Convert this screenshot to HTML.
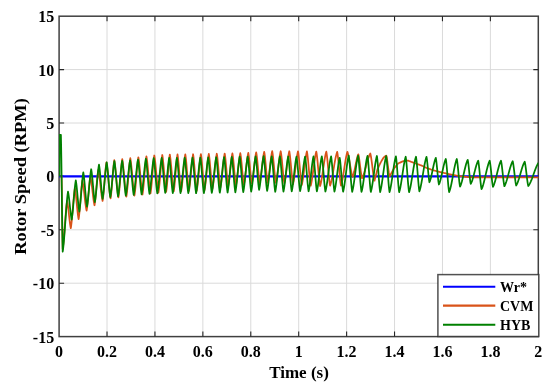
<!DOCTYPE html>
<html><head><meta charset="utf-8"><title>Rotor Speed</title>
<style>html,body{margin:0;padding:0;background:#fff;width:550px;height:390px;overflow:hidden}svg{display:block}</style>
</head><body>
<svg width="550" height="390" viewBox="0 0 550 390">
<rect width="550" height="390" fill="#fff"/>
<defs><clipPath id="c"><rect x="59.10" y="16.20" width="479.20" height="320.40"/></clipPath></defs>
<path d="M107.02 16.20V336.60M154.94 16.20V336.60M202.86 16.20V336.60M250.78 16.20V336.60M298.70 16.20V336.60M346.62 16.20V336.60M394.54 16.20V336.60M442.46 16.20V336.60M490.38 16.20V336.60M59.10 283.20H538.30M59.10 229.80H538.30M59.10 176.40H538.30M59.10 123.00H538.30M59.10 69.60H538.30" stroke="#dadada" stroke-width="1" fill="none"/>
<rect x="59.10" y="16.20" width="479.20" height="320.40" fill="none" stroke="#262626" stroke-width="1.5" stroke-opacity="0.88"/>
<path d="M107.02 336.60v-5.00M107.02 16.20v5.00M154.94 336.60v-5.00M154.94 16.20v5.00M202.86 336.60v-5.00M202.86 16.20v5.00M250.78 336.60v-5.00M250.78 16.20v5.00M298.70 336.60v-5.00M298.70 16.20v5.00M346.62 336.60v-5.00M346.62 16.20v5.00M394.54 336.60v-5.00M394.54 16.20v5.00M442.46 336.60v-5.00M442.46 16.20v5.00M490.38 336.60v-5.00M490.38 16.20v5.00M59.10 283.20h5.00M538.30 283.20h-5.00M59.10 229.80h5.00M538.30 229.80h-5.00M59.10 176.40h5.00M538.30 176.40h-5.00M59.10 123.00h5.00M538.30 123.00h-5.00M59.10 69.60h5.00M538.30 69.60h-5.00" stroke="#262626" stroke-width="1.1" fill="none"/>
<g clip-path="url(#c)" fill="none" stroke-width="1.75" stroke-linejoin="round">
<path d="M59.10 176.40H538.30" stroke="#0000ff" stroke-width="2.1"/>
<path d="M60.40 176.40L60.63 176.40L60.86 176.40L61.09 176.40L61.32 176.40L61.55 176.40L61.78 187.51L62.01 203.67L62.24 221.76L62.47 237.91L62.70 249.02L62.94 247.39L63.19 245.43L63.43 243.17L63.68 240.62L63.92 237.82L64.17 234.81L64.41 231.63L64.66 228.34L64.90 224.99L65.14 221.65L65.39 218.36L65.63 215.18L65.88 212.17L66.12 209.37L66.37 206.82L66.61 204.55L66.86 202.60L67.10 200.96L67.35 202.10L67.59 203.49L67.84 205.13L68.09 206.99L68.33 209.02L68.58 211.19L68.83 213.44L69.07 215.72L69.32 217.97L69.57 220.14L69.81 222.18L70.06 224.03L70.31 225.67L70.55 227.07L70.80 228.20L71.04 226.75L71.28 225.00L71.52 222.96L71.76 220.66L72.01 218.14L72.25 215.43L72.49 212.58L72.73 209.65L72.97 206.69L73.21 203.76L73.45 200.92L73.69 198.21L73.94 195.68L74.18 193.38L74.42 191.35L74.66 189.60L74.90 188.15L75.15 189.44L75.39 191.02L75.64 192.89L75.89 195.00L76.13 197.31L76.38 199.78L76.63 202.34L76.87 204.93L77.12 207.49L77.37 209.96L77.61 212.27L77.86 214.38L78.11 216.25L78.35 217.83L78.60 219.12L78.84 217.63L79.07 215.82L79.31 213.70L79.55 211.30L79.79 208.67L80.03 205.85L80.26 202.91L80.50 199.90L80.74 196.89L80.97 193.94L81.21 191.12L81.45 188.49L81.69 186.09L81.93 183.97L82.16 182.16L82.40 180.67L82.65 181.75L82.89 183.06L83.14 184.58L83.39 186.30L83.64 188.18L83.88 190.21L84.13 192.33L84.38 194.52L84.62 196.73L84.87 198.92L85.12 201.04L85.36 203.06L85.61 204.95L85.86 206.67L86.11 208.19L86.35 209.49L86.60 210.58L86.84 209.25L87.07 207.64L87.31 205.76L87.55 203.62L87.79 201.28L88.03 198.78L88.26 196.16L88.50 193.49L88.74 190.81L88.97 188.20L89.21 185.69L89.45 183.35L89.69 181.22L89.93 179.33L90.16 177.72L90.40 176.40L90.64 177.44L90.88 178.70L91.12 180.17L91.36 181.83L91.61 183.64L91.85 185.59L92.09 187.64L92.33 189.75L92.57 191.88L92.81 193.99L93.05 196.04L93.29 197.99L93.54 199.81L93.78 201.47L94.02 202.93L94.26 204.19L94.50 205.24L94.74 203.87L94.97 202.21L95.21 200.27L95.45 198.07L95.69 195.65L95.92 193.07L96.16 190.37L96.40 187.61L96.64 184.86L96.88 182.16L97.11 179.57L97.35 177.16L97.59 174.96L97.83 173.02L98.06 171.36L98.30 169.99L98.54 171.04L98.78 172.30L99.02 173.76L99.26 175.41L99.49 177.21L99.73 179.15L99.97 181.20L100.21 183.32L100.45 185.48L100.69 187.63L100.93 189.75L101.17 191.80L101.41 193.74L101.64 195.55L101.88 197.19L102.12 198.65L102.36 199.91L102.60 200.96L102.84 199.47L103.08 197.65L103.32 195.51L103.56 193.10L103.80 190.46L104.04 187.62L104.29 184.66L104.53 181.64L104.77 178.61L105.01 175.66L105.25 172.82L105.49 170.18L105.73 167.77L105.97 165.63L106.21 163.81L106.45 162.32L106.69 163.62L106.94 165.20L107.18 167.04L107.42 169.11L107.66 171.39L107.90 173.83L108.14 176.40L108.38 179.04L108.62 181.71L108.86 184.36L109.11 186.92L109.35 189.37L109.59 191.64L109.83 193.72L110.07 195.55L110.31 197.13L110.55 198.44L110.79 196.96L111.02 195.14L111.26 193.02L111.49 190.63L111.72 188.00L111.96 185.18L112.19 182.24L112.43 179.24L112.66 176.23L112.90 173.29L113.13 170.47L113.37 167.84L113.60 165.45L113.83 163.33L114.07 161.52L114.30 160.03L114.54 161.39L114.79 163.02L115.03 164.93L115.27 167.07L115.51 169.43L115.75 171.97L115.99 174.63L116.23 177.36L116.47 180.13L116.72 182.87L116.96 185.53L117.20 188.06L117.44 190.42L117.68 192.57L117.92 194.47L118.16 196.11L118.40 197.46L118.64 195.98L118.89 194.16L119.13 192.05L119.37 189.65L119.61 187.02L119.85 184.21L120.09 181.27L120.33 178.27L120.57 175.26L120.81 172.32L121.05 169.51L121.29 166.88L121.53 164.49L121.77 162.37L122.02 160.56L122.26 159.07L122.50 160.43L122.74 162.07L122.98 163.97L123.22 166.13L123.46 168.49L123.70 171.03L123.94 173.69L124.19 176.43L124.43 179.20L124.67 181.95L124.91 184.61L125.15 187.15L125.39 189.51L125.63 191.66L125.87 193.57L126.11 195.21L126.36 196.57L126.60 195.08L126.85 193.27L127.10 191.16L127.34 188.77L127.59 186.14L127.84 183.33L128.09 180.39L128.33 177.39L128.58 174.39L128.83 171.45L129.07 168.64L129.32 166.01L129.57 163.62L129.82 161.50L130.06 159.69L130.31 158.21L130.55 159.56L130.79 161.19L131.03 163.09L131.28 165.24L131.52 167.59L131.76 170.12L132.00 172.77L132.24 175.51L132.48 178.27L132.72 181.00L132.96 183.66L133.20 186.19L133.45 188.54L133.69 190.68L133.93 192.58L134.17 194.22L134.41 195.57L134.66 194.09L134.90 192.28L135.15 190.17L135.40 187.78L135.65 185.16L135.89 182.35L136.14 179.42L136.39 176.42L136.64 173.42L136.88 170.49L137.13 167.68L137.38 165.06L137.62 162.67L137.87 160.56L138.12 158.75L138.37 157.27L138.61 158.62L138.85 160.25L139.09 162.14L139.33 164.28L139.57 166.62L139.81 169.14L140.05 171.79L140.29 174.51L140.54 177.26L140.78 179.98L141.02 182.63L141.26 185.15L141.50 187.49L141.74 189.63L141.98 191.52L142.22 193.15L142.47 194.49L142.71 193.02L142.96 191.22L143.21 189.11L143.45 186.73L143.70 184.12L143.95 181.32L144.20 178.40L144.44 175.42L144.69 172.43L144.94 169.51L145.18 166.71L145.43 164.10L145.68 161.72L145.93 159.61L146.17 157.81L146.42 156.34L146.66 157.68L146.90 159.30L147.14 161.19L147.38 163.32L147.62 165.66L147.86 168.17L148.10 170.80L148.34 173.52L148.58 176.26L148.82 178.97L149.06 181.61L149.30 184.12L149.54 186.46L149.78 188.58L150.02 190.47L150.26 192.09L150.50 193.43L150.74 191.97L150.97 190.18L151.21 188.08L151.45 185.72L151.69 183.12L151.92 180.34L152.16 177.43L152.40 174.46L152.64 171.49L152.87 168.59L153.11 165.81L153.35 163.21L153.59 160.84L153.82 158.75L154.06 156.96L154.30 155.49L154.54 156.83L154.78 158.46L155.02 160.34L155.26 162.47L155.51 164.81L155.75 167.32L155.99 169.96L156.23 172.67L156.47 175.41L156.71 178.13L156.95 180.76L157.19 183.27L157.44 185.61L157.68 187.74L157.92 189.63L158.16 191.25L158.40 192.59L158.64 191.14L158.89 189.36L159.13 187.29L159.37 184.94L159.62 182.37L159.86 179.61L160.11 176.73L160.35 173.79L160.59 170.85L160.84 167.97L161.08 165.21L161.32 162.64L161.57 160.29L161.81 158.22L162.06 156.44L162.30 154.99L162.54 156.41L162.78 158.15L163.02 160.18L163.26 162.47L163.50 164.99L163.74 167.68L163.98 170.50L164.22 173.38L164.46 176.25L164.71 179.07L164.95 181.77L165.19 184.28L165.43 186.58L165.67 188.61L165.91 190.34L166.15 191.76L166.39 190.21L166.64 188.31L166.88 186.07L167.12 183.53L167.37 180.75L167.61 177.78L167.85 174.70L168.10 171.58L168.34 168.50L168.58 165.54L168.83 162.75L169.07 160.22L169.31 157.97L169.56 156.07L169.80 154.52L170.04 155.94L170.29 157.67L170.53 159.70L170.78 161.99L171.02 164.51L171.27 167.20L171.51 170.02L171.76 172.90L172.00 175.77L172.25 178.59L172.49 181.28L172.74 183.80L172.98 186.09L173.23 188.12L173.47 189.85L173.72 191.27L173.96 189.85L174.19 188.11L174.43 186.08L174.66 183.78L174.90 181.25L175.14 178.56L175.37 175.73L175.61 172.85L175.85 169.97L176.08 167.14L176.32 164.44L176.55 161.92L176.79 159.62L177.03 157.59L177.26 155.85L177.50 154.43L177.74 155.95L177.99 157.83L178.23 160.04L178.47 162.54L178.72 165.28L178.96 168.20L179.20 171.23L179.44 174.31L179.69 177.34L179.93 180.26L180.17 183.00L180.42 185.50L180.66 187.71L180.90 189.59L181.15 191.11L181.39 189.78L181.64 188.18L181.88 186.31L182.12 184.20L182.37 181.88L182.61 179.39L182.86 176.78L183.10 174.09L183.35 171.37L183.59 168.68L183.83 166.07L184.08 163.58L184.32 161.26L184.57 159.15L184.81 157.28L185.06 155.67L185.30 154.34L185.54 155.86L185.78 157.74L186.03 159.94L186.27 162.44L186.51 165.17L186.75 168.09L186.99 171.11L187.23 174.18L187.48 177.20L187.72 180.12L187.96 182.85L188.20 185.35L188.44 187.55L188.68 189.43L188.93 190.95L189.17 189.62L189.42 188.02L189.66 186.15L189.91 184.05L190.15 181.73L190.40 179.25L190.64 176.64L190.89 173.96L191.14 171.25L191.38 168.56L191.63 165.96L191.87 163.47L192.12 161.16L192.36 159.06L192.61 157.19L192.85 155.59L193.10 154.26L193.34 155.78L193.58 157.65L193.82 159.85L194.06 162.33L194.30 165.06L194.54 167.97L194.78 170.99L195.02 174.05L195.26 177.07L195.50 179.98L195.74 182.71L195.98 185.19L196.23 187.39L196.47 189.26L196.71 190.78L196.95 189.46L197.20 187.86L197.45 185.99L197.69 183.89L197.94 181.58L198.19 179.11L198.43 176.50L198.68 173.82L198.93 171.12L199.17 168.44L199.42 165.84L199.67 163.36L199.91 161.05L200.16 158.95L200.41 157.09L200.65 155.49L200.90 154.16L201.14 155.65L201.38 157.49L201.63 159.64L201.87 162.09L202.11 164.76L202.35 167.62L202.59 170.58L202.84 173.58L203.08 176.54L203.32 179.40L203.56 182.08L203.81 184.52L204.05 186.68L204.29 188.51L204.53 190.00L204.77 188.78L205.01 187.31L205.24 185.61L205.48 183.70L205.72 181.60L205.95 179.34L206.19 176.96L206.43 174.49L206.67 171.98L206.90 169.47L207.14 167.00L207.38 164.62L207.61 162.36L207.85 160.26L208.09 158.35L208.33 156.65L208.56 155.18L208.80 153.96L209.04 155.41L209.29 157.19L209.53 159.28L209.78 161.65L210.02 164.26L210.26 167.03L210.51 169.90L210.75 172.82L210.99 175.69L211.24 178.47L211.48 181.07L211.73 183.44L211.97 185.53L212.21 187.31L212.46 188.76L212.70 187.57L212.94 186.15L213.18 184.50L213.42 182.64L213.66 180.60L213.90 178.40L214.15 176.09L214.39 173.69L214.63 171.26L214.87 168.82L215.11 166.42L215.35 164.11L215.59 161.92L215.83 159.88L216.08 158.02L216.32 156.37L216.56 154.94L216.80 153.75L217.04 155.16L217.28 156.89L217.52 158.92L217.76 161.22L218.00 163.74L218.24 166.43L218.48 169.22L218.71 172.05L218.95 174.84L219.19 177.53L219.43 180.05L219.67 182.35L219.91 184.38L220.15 186.11L220.39 187.52L220.63 186.36L220.87 184.98L221.11 183.38L221.35 181.58L221.59 179.60L221.83 177.47L222.07 175.22L222.31 172.90L222.54 170.53L222.78 168.17L223.02 165.85L223.26 163.60L223.50 161.47L223.74 159.49L223.98 157.69L224.22 156.09L224.46 154.71L224.70 153.55L224.95 155.02L225.20 156.85L225.45 159.02L225.69 161.47L225.94 164.16L226.19 167.00L226.44 169.92L226.69 172.85L226.94 175.69L227.18 178.38L227.43 180.83L227.68 182.99L227.93 184.83L228.18 186.30L228.43 185.11L228.68 183.67L228.92 181.99L229.17 180.10L229.42 178.02L229.67 175.79L229.92 173.45L230.17 171.04L230.41 168.61L230.66 166.20L230.91 163.86L231.16 161.63L231.41 159.55L231.66 157.66L231.90 155.99L232.15 154.55L232.40 153.36L232.64 154.69L232.87 156.33L233.11 158.25L233.35 160.44L233.58 162.83L233.82 165.38L234.06 168.03L234.29 170.71L234.53 173.35L234.76 175.90L235.00 178.30L235.24 180.48L235.47 182.41L235.71 184.05L235.95 185.38L236.19 184.28L236.43 182.97L236.67 181.45L236.91 179.74L237.16 177.86L237.40 175.84L237.64 173.71L237.88 171.51L238.12 169.26L238.37 167.02L238.61 164.82L238.85 162.69L239.09 160.67L239.33 158.79L239.57 157.08L239.82 155.56L240.06 154.25L240.30 153.15L240.54 154.46L240.78 156.06L241.01 157.95L241.25 160.09L241.49 162.44L241.73 164.93L241.96 167.53L242.20 170.16L242.44 172.75L242.68 175.25L242.91 177.59L243.15 179.73L243.39 181.62L243.63 183.23L243.86 184.53L244.11 183.46L244.36 182.17L244.60 180.68L244.85 179.01L245.10 177.17L245.34 175.19L245.59 173.10L245.84 170.94L246.08 168.74L246.33 166.54L246.58 164.38L246.82 162.29L247.07 160.31L247.31 158.47L247.56 156.79L247.81 155.31L248.05 154.02L248.30 152.95L248.55 154.33L248.80 156.05L249.05 158.08L249.30 160.38L249.55 162.90L249.80 165.57L250.05 168.32L250.30 171.06L250.55 173.73L250.80 176.25L251.04 178.55L251.29 180.58L251.54 182.30L251.79 183.68L252.04 182.62L252.28 181.35L252.53 179.88L252.77 178.22L253.02 176.40L253.26 174.44L253.51 172.37L253.75 170.23L254.00 168.05L254.24 165.88L254.49 163.74L254.73 161.67L254.98 159.71L255.22 157.89L255.47 156.23L255.71 154.76L255.96 153.48L256.20 152.42L256.43 153.69L256.67 155.24L256.90 157.08L257.14 159.15L257.37 161.42L257.60 163.84L257.84 166.36L258.07 168.90L258.31 171.42L258.54 173.84L258.77 176.11L259.01 178.19L259.24 180.02L259.48 181.57L259.71 182.84L259.96 181.78L260.21 180.52L260.46 179.06L260.71 177.41L260.96 175.60L261.21 173.66L261.46 171.61L261.71 169.48L261.96 167.32L262.20 165.16L262.45 163.03L262.70 160.98L262.95 159.04L263.20 157.23L263.45 155.58L263.70 154.12L263.95 152.86L264.20 151.80L264.45 153.19L264.70 154.93L264.95 156.98L265.20 159.30L265.44 161.84L265.69 164.53L265.94 167.30L266.19 170.08L266.44 172.77L266.69 175.31L266.94 177.63L267.19 179.68L267.43 181.41L267.68 182.81L267.92 181.80L268.16 180.59L268.40 179.21L268.63 177.65L268.87 175.94L269.11 174.10L269.35 172.15L269.58 170.12L269.82 168.05L270.06 165.96L270.30 163.88L270.54 161.86L270.77 159.91L271.01 158.07L271.25 156.36L271.49 154.80L271.72 153.41L271.96 152.21L272.20 151.20L272.44 152.51L272.69 154.13L272.93 156.03L273.18 158.19L273.42 160.55L273.67 163.07L273.91 165.68L274.16 168.33L274.40 170.94L274.65 173.46L274.89 175.82L275.14 177.97L275.38 179.87L275.63 181.49L275.87 182.81L276.11 181.85L276.35 180.72L276.60 179.43L276.84 177.98L277.08 176.38L277.32 174.67L277.56 172.85L277.80 170.95L278.04 169.00L278.29 167.02L278.53 165.04L278.77 163.09L279.01 161.19L279.25 159.37L279.49 157.65L279.73 156.06L279.98 154.61L280.22 153.31L280.46 152.18L280.70 151.23L280.95 152.56L281.19 154.20L281.44 156.13L281.68 158.31L281.93 160.71L282.17 163.26L282.42 165.91L282.66 168.59L282.91 171.24L283.16 173.80L283.40 176.19L283.65 178.37L283.89 180.30L284.14 181.94L284.38 183.28L284.63 182.31L284.87 181.16L285.12 179.85L285.37 178.38L285.61 176.76L285.86 175.02L286.10 173.18L286.35 171.26L286.60 169.28L286.84 167.27L287.09 165.26L287.33 163.28L287.58 161.36L287.82 159.51L288.07 157.77L288.32 156.16L288.56 154.69L288.81 153.37L289.05 152.23L289.30 151.26L289.55 152.63L289.79 154.32L290.04 156.30L290.29 158.54L290.53 161.00L290.78 163.63L291.02 166.35L291.27 169.11L291.52 171.83L291.76 174.45L292.01 176.91L292.26 179.16L292.50 181.14L292.75 182.83L292.99 184.20L293.23 183.25L293.47 182.14L293.71 180.88L293.95 179.46L294.19 177.91L294.42 176.24L294.66 174.46L294.90 172.60L295.14 170.68L295.38 168.73L295.62 166.76L295.85 164.81L296.09 162.89L296.33 161.03L296.57 159.25L296.81 157.58L297.05 156.03L297.28 154.61L297.52 153.35L297.76 152.24L298.00 151.29L298.25 152.70L298.50 154.43L298.75 156.46L299.00 158.76L299.25 161.28L299.50 163.97L299.75 166.77L300.00 169.59L300.25 172.38L300.50 175.07L300.75 177.60L301.00 179.90L301.25 181.93L301.50 183.66L301.75 185.06L301.99 184.10L302.24 182.96L302.48 181.67L302.73 180.22L302.97 178.63L303.22 176.92L303.46 175.10L303.71 173.20L303.95 171.24L304.20 169.24L304.45 167.23L304.69 165.22L304.94 163.26L305.18 161.36L305.43 159.54L305.67 157.83L305.92 156.24L306.16 154.80L306.41 153.50L306.65 152.37L306.90 151.40L307.14 152.73L307.38 154.34L307.61 156.24L307.85 158.37L308.09 160.72L308.32 163.23L308.56 165.85L308.80 168.54L309.04 171.22L309.27 173.84L309.51 176.35L309.75 178.70L309.99 180.84L310.22 182.73L310.46 184.35L310.70 185.67L310.94 184.78L311.19 183.75L311.43 182.59L311.67 181.29L311.92 179.87L312.16 178.34L312.40 176.71L312.65 174.99L312.89 173.22L313.13 171.39L313.38 169.54L313.62 167.67L313.87 165.82L314.11 163.99L314.35 162.21L314.60 160.50L314.84 158.87L315.08 157.34L315.33 155.92L315.57 154.62L315.81 153.45L316.06 152.43L316.30 151.54L316.54 152.87L316.78 154.50L317.01 156.40L317.25 158.55L317.49 160.91L317.73 163.43L317.96 166.07L318.20 168.77L318.44 171.47L318.68 174.11L318.91 176.64L319.15 179.00L319.39 181.15L319.62 183.05L319.86 184.67L320.10 186.01L320.35 185.19L320.60 184.26L320.84 183.20L321.09 182.03L321.34 180.76L321.59 179.38L321.84 177.92L322.08 176.38L322.33 174.78L322.58 173.12L322.83 171.43L323.08 169.71L323.32 167.98L323.57 166.27L323.82 164.57L324.07 162.91L324.32 161.31L324.56 159.77L324.81 158.31L325.06 156.93L325.31 155.66L325.56 154.49L325.80 153.43L326.05 152.50L326.30 151.68L326.54 153.00L326.78 154.60L327.01 156.48L327.25 158.60L327.49 160.93L327.73 163.42L327.96 166.02L328.20 168.69L328.44 171.35L328.68 173.95L328.91 176.45L329.15 178.77L329.39 180.89L329.62 182.77L329.86 184.38L330.10 185.69L330.34 185.00L330.59 184.23L330.83 183.37L331.08 182.42L331.32 181.39L331.57 180.29L331.81 179.11L332.06 177.87L332.30 176.57L332.55 175.22L332.79 173.83L333.04 172.41L333.28 170.96L333.53 169.50L333.77 168.03L334.02 166.57L334.26 165.12L334.51 163.70L334.75 162.31L335.00 160.96L335.24 159.66L335.49 158.42L335.73 157.24L335.98 156.14L336.22 155.11L336.47 154.16L336.71 153.30L336.96 152.52L337.20 151.84L337.44 153.15L337.68 154.74L337.91 156.61L338.15 158.72L338.39 161.04L338.62 163.52L338.86 166.11L339.10 168.76L339.34 171.41L339.57 174.01L339.81 176.49L340.05 178.81L340.29 180.92L340.52 182.78L340.76 184.38L341.00 185.69L341.25 184.92L341.49 184.04L341.74 183.05L341.98 181.95L342.23 180.76L342.48 179.48L342.72 178.11L342.97 176.67L343.22 175.17L343.46 173.61L343.71 172.02L343.95 170.40L344.20 168.76L344.45 167.13L344.69 165.51L344.94 163.91L345.18 162.36L345.43 160.86L345.68 159.42L345.92 158.05L346.17 156.77L346.42 155.57L346.66 154.48L346.91 153.49L347.15 152.61L347.40 151.84L347.65 152.56L347.90 153.40L348.14 154.37L348.39 155.45L348.64 156.63L348.89 157.91L349.13 159.26L349.38 160.68L349.63 162.14L349.88 163.63L350.12 165.14L350.37 166.63L350.62 168.09L350.87 169.51L351.11 170.86L351.36 172.14L351.61 173.32L351.86 174.40L352.10 175.37L352.35 176.21L352.60 176.93L352.85 176.35L353.10 175.66L353.34 174.89L353.59 174.03L353.84 173.08L354.09 172.07L354.33 170.99L354.58 169.85L354.83 168.67L355.08 167.46L355.33 166.23L355.57 164.99L355.82 163.76L356.07 162.55L356.32 161.37L356.57 160.24L356.81 159.16L357.06 158.14L357.31 157.20L357.56 156.34L357.80 155.56L358.05 154.88L358.30 154.29L358.55 155.29L358.79 156.51L359.04 157.95L359.29 159.58L359.53 161.37L359.78 163.27L360.03 165.25L360.27 167.26L360.52 169.23L360.77 171.14L361.01 172.93L361.26 174.56L361.51 176.00L361.75 177.22L362.00 178.22L362.24 177.79L362.49 177.32L362.73 176.80L362.98 176.24L363.22 175.63L363.46 174.98L363.71 174.28L363.95 173.55L364.20 172.79L364.44 171.99L364.69 171.17L364.93 170.32L365.17 169.44L365.42 168.55L365.66 167.65L365.91 166.74L366.15 165.83L366.39 164.91L366.64 164.00L366.88 163.10L367.13 162.21L367.37 161.34L367.61 160.49L367.86 159.66L368.10 158.86L368.35 158.10L368.59 157.37L368.84 156.68L369.08 156.03L369.32 155.42L369.57 154.85L369.81 154.33L370.06 153.86L370.30 153.44L370.55 154.42L370.79 155.61L371.04 157.00L371.29 158.56L371.54 160.28L371.78 162.12L372.03 164.06L372.28 166.05L372.52 168.06L372.77 170.05L373.02 171.99L373.26 173.83L373.51 175.55L373.76 177.11L374.01 178.50L374.25 179.69L374.50 180.67L374.74 179.74L374.98 178.80L375.23 177.87L375.47 176.93L375.71 176.00L375.95 175.06L376.19 174.13L376.43 173.20L376.67 172.26L376.92 171.33L377.16 170.39L377.40 169.46L377.65 168.92L377.89 168.39L378.14 167.86L378.38 167.32L378.63 166.79L378.88 166.25L379.12 165.72L379.37 165.19L379.62 164.65L379.86 164.12L380.11 163.58L380.35 163.05L380.60 162.52L380.85 162.11L381.09 161.69L381.34 161.28L381.58 160.87L381.83 160.46L382.08 160.05L382.32 159.64L382.57 159.23L382.82 158.82L383.06 158.41L383.31 158.00L383.55 157.59L383.80 157.18L384.05 157.07L384.30 156.93L384.55 156.76L384.80 156.57L385.05 156.38L385.30 156.18L385.55 155.99L385.80 155.82L386.05 155.68L386.30 155.57L386.54 156.51L386.77 157.67L387.01 159.05L387.24 160.61L387.48 162.32L387.71 164.13L387.95 165.99L388.19 167.85L388.42 169.66L388.66 171.36L388.89 172.92L389.13 174.30L389.36 175.46L389.60 176.40L389.60 176.40L390.10 175.49L390.60 174.58L391.10 173.67L391.60 172.76L392.10 171.85L392.60 170.94L393.10 170.03L393.60 169.12L394.10 168.27L394.60 167.67L395.10 167.07L395.60 166.47L396.10 165.87L396.60 165.27L397.10 164.67L397.60 164.06L398.10 163.54L398.60 163.30L399.10 163.07L399.60 162.83L400.10 162.60L400.60 162.36L401.10 162.13L401.60 161.89L402.10 161.66L402.60 161.42L403.10 161.22L403.60 161.16L404.10 161.09L404.60 161.03L405.10 160.97L405.60 160.90L406.10 160.84L406.60 160.77L407.10 160.71L407.60 160.64L408.10 160.63L408.60 160.82L409.10 161.02L409.60 161.21L410.10 161.40L410.60 161.59L411.10 161.79L411.60 161.98L412.10 162.17L412.60 162.36L413.10 162.55L413.60 162.73L414.10 162.91L414.60 163.09L415.10 163.26L415.60 163.44L416.10 163.62L416.60 163.80L417.10 163.98L417.60 164.15L418.10 164.33L418.60 164.51L419.10 164.69L419.60 164.87L420.10 165.04L420.60 165.22L421.10 165.40L421.60 165.58L422.10 165.77L422.60 166.01L423.10 166.25L423.60 166.50L424.10 166.74L424.60 166.98L425.10 167.22L425.60 167.47L426.10 167.71L426.60 167.93L427.10 168.11L427.60 168.28L428.10 168.46L428.60 168.64L429.10 168.82L429.60 169.00L430.10 169.17L430.60 169.35L431.10 169.53L431.60 169.71L432.10 169.89L432.60 170.06L433.10 170.23L433.60 170.36L434.10 170.49L434.60 170.62L435.10 170.75L435.60 170.88L436.10 171.01L436.60 171.14L437.10 171.27L437.60 171.40L438.10 171.53L438.60 171.66L439.10 171.79L439.60 171.92L440.10 172.04L440.60 172.16L441.10 172.28L441.60 172.40L442.10 172.51L442.60 172.63L443.10 172.75L443.60 172.87L444.10 172.98L444.60 173.10L445.10 173.22L445.60 173.34L446.10 173.45L446.60 173.57L447.10 173.69L447.60 173.81L448.10 173.92L448.60 174.04L449.10 174.16L449.60 174.28L450.10 174.39L450.60 174.48L451.10 174.58L451.60 174.67L452.10 174.76L452.60 174.86L453.10 174.95L453.60 175.04L454.10 175.14L454.60 175.23L455.10 175.32L455.60 175.42L456.10 175.51L456.60 175.60L457.10 175.70L457.60 175.79L458.10 175.88L458.60 175.95L459.10 176.01L459.60 176.08L460.10 176.15L460.60 176.21L461.10 176.28L461.60 176.35L462.10 176.41L462.60 176.48L463.10 176.55L463.60 176.61L464.10 176.68L464.60 176.75L465.10 176.81L465.60 176.88L466.10 176.94L466.60 176.97L467.10 177.00L467.60 177.03L468.10 177.06L468.60 177.09L469.10 177.12L469.60 177.15L470.10 177.18L470.60 177.21L471.10 177.24L471.60 177.27L472.10 177.30L472.60 177.33L473.10 177.36L473.60 177.38L474.10 177.41L474.60 177.44L475.10 177.47L475.60 177.47L476.10 177.47L476.60 177.47L477.10 177.47L477.60 177.47L478.10 177.47L478.60 177.47L479.10 177.47L479.60 177.47L480.10 177.47L480.60 177.47L481.10 177.47L481.60 177.47L482.10 177.47L482.60 177.47L483.10 177.47L483.60 177.47L484.10 177.47L484.60 177.47L485.10 177.47L485.60 177.47L486.10 177.47L486.60 177.47L487.10 177.47L487.60 177.47L488.10 177.47L488.60 177.47L489.10 177.47L489.60 177.47L490.10 177.47L490.60 177.47L491.10 177.47L491.60 177.47L492.10 177.47L492.60 177.47L493.10 177.47L493.60 177.47L494.10 177.47L494.60 177.47L495.10 177.47L495.60 177.47L496.10 177.47L496.60 177.47L497.10 177.47L497.60 177.47L498.10 177.47L498.60 177.47L499.10 177.47L499.60 177.47L500.10 177.47L500.60 177.47L501.10 177.47L501.60 177.47L502.10 177.47L502.60 177.47L503.10 177.47L503.60 177.47L504.10 177.47L504.60 177.47L505.10 177.47L505.60 177.47L506.10 177.47L506.60 177.47L507.10 177.47L507.60 177.47L508.10 177.47L508.60 177.47L509.10 177.47L509.60 177.47L510.10 177.47L510.60 177.47L511.10 177.47L511.60 177.47L512.10 177.47L512.60 177.47L513.10 177.47L513.60 177.47L514.10 177.47L514.60 177.47L515.10 177.47L515.60 177.47L516.10 177.47L516.60 177.47L517.10 177.47L517.60 177.47L518.10 177.47L518.60 177.47L519.10 177.47L519.60 177.47L520.10 177.47L520.60 177.47L521.10 177.47L521.60 177.47L522.10 177.47L522.60 177.47L523.10 177.47L523.60 177.47L524.10 177.47L524.60 177.47L525.10 177.47L525.60 177.47L526.10 177.47L526.60 177.47L527.10 177.47L527.60 177.47L528.10 177.47L528.60 177.47L529.10 177.47L529.60 177.47L530.10 177.47L530.60 177.47L531.10 177.47L531.60 177.47L532.10 177.47L532.60 177.47L533.10 177.47L533.60 177.47L534.10 177.47L534.60 177.47L535.10 177.47L535.60 177.47L536.10 177.47L536.60 177.47L537.10 177.47L537.60 177.47L538.10 177.47L538.60 177.47L539.10 177.47L539.60 177.47" stroke="#d95319"/>
<path d="M59.40 176.40L59.50 155.57L59.60 134.75L59.82 134.75L60.03 134.75L60.25 134.75L60.47 134.75L60.68 134.75L60.90 134.75L61.12 144.79L61.35 158.53L61.58 175.11L61.80 193.22L62.02 211.33L62.25 227.91L62.48 241.65L62.70 251.69L62.94 250.06L63.18 248.15L63.42 245.97L63.66 243.55L63.90 240.89L64.15 238.03L64.39 234.99L64.63 231.79L64.87 228.49L65.11 225.11L65.35 221.68L65.59 218.26L65.83 214.88L66.07 211.57L66.31 208.38L66.55 205.34L66.80 202.47L67.04 199.82L67.28 197.39L67.52 195.22L67.76 193.31L68.00 191.67L68.24 192.83L68.49 194.25L68.73 195.93L68.97 197.82L69.22 199.90L69.46 202.12L69.70 204.42L69.95 206.75L70.19 209.05L70.43 211.27L70.68 213.35L70.92 215.24L71.16 216.92L71.41 218.34L71.65 219.50L71.89 218.09L72.14 216.38L72.38 214.39L72.63 212.15L72.87 209.69L73.11 207.05L73.36 204.28L73.60 201.42L73.85 198.54L74.09 195.68L74.34 192.91L74.58 190.26L74.82 187.80L75.07 185.56L75.31 183.58L75.56 181.87L75.80 180.46L76.05 181.86L76.30 183.60L76.55 185.65L76.80 187.99L77.05 190.54L77.30 193.24L77.55 196.02L77.80 198.80L78.05 201.50L78.30 204.05L78.55 206.38L78.80 208.44L79.05 210.18L79.30 211.58L79.55 210.06L79.80 208.22L80.05 206.06L80.30 203.62L80.55 200.94L80.80 198.07L81.05 195.08L81.30 192.01L81.55 188.95L81.80 185.95L82.05 183.09L82.30 180.41L82.55 177.97L82.80 175.81L83.05 173.96L83.30 172.45L83.55 173.87L83.79 175.61L84.04 177.67L84.29 179.99L84.53 182.54L84.78 185.26L85.03 188.08L85.27 190.93L85.52 193.75L85.77 196.47L86.01 199.02L86.26 201.35L86.51 203.40L86.75 205.15L87.00 206.56L87.25 205.21L87.49 203.58L87.74 201.68L87.99 199.54L88.24 197.19L88.48 194.67L88.73 192.01L88.98 189.28L89.22 186.53L89.47 183.80L89.72 181.14L89.96 178.62L90.21 176.27L90.46 174.12L90.71 172.23L90.95 170.59L91.20 169.24L91.44 170.61L91.69 172.28L91.93 174.26L92.17 176.49L92.42 178.94L92.66 181.55L92.90 184.26L93.15 187.00L93.39 189.71L93.63 192.32L93.88 194.77L94.12 197.00L94.36 198.97L94.61 200.65L94.85 202.01L95.09 200.66L95.34 199.03L95.58 197.13L95.83 194.98L96.07 192.63L96.31 190.10L96.56 187.44L96.80 184.71L97.05 181.95L97.29 179.22L97.54 176.56L97.78 174.04L98.02 171.68L98.27 169.54L98.51 167.64L98.76 166.00L99.00 164.65L99.24 166.07L99.48 167.82L99.72 169.87L99.96 172.19L100.20 174.74L100.44 177.46L100.68 180.28L100.92 183.14L101.16 185.96L101.40 188.67L101.64 191.22L101.88 193.55L102.12 195.60L102.36 197.35L102.60 198.77L102.84 197.45L103.08 195.86L103.32 194.01L103.56 191.93L103.81 189.63L104.05 187.17L104.29 184.59L104.53 181.93L104.77 179.24L105.01 176.58L105.25 174.00L105.49 171.54L105.74 169.25L105.98 167.16L106.22 165.31L106.46 163.72L106.70 162.41L106.94 163.86L107.18 165.64L107.42 167.73L107.66 170.10L107.90 172.70L108.14 175.47L108.38 178.35L108.62 181.26L108.86 184.13L109.10 186.90L109.34 189.50L109.58 191.87L109.82 193.97L110.06 195.75L110.30 197.19L110.54 195.89L110.78 194.32L111.02 192.49L111.26 190.43L111.51 188.16L111.75 185.73L111.99 183.17L112.23 180.54L112.47 177.89L112.71 175.25L112.95 172.70L113.19 170.27L113.44 168.00L113.68 165.94L113.92 164.11L114.16 162.54L114.40 161.23L114.64 162.70L114.89 164.49L115.13 166.61L115.37 169.00L115.62 171.63L115.86 174.43L116.10 177.33L116.35 180.27L116.59 183.18L116.83 185.97L117.08 188.60L117.32 190.99L117.56 193.11L117.81 194.91L118.05 196.37L118.29 195.08L118.54 193.53L118.78 191.72L119.03 189.68L119.27 187.43L119.51 185.03L119.76 182.50L120.00 179.90L120.25 177.27L120.49 174.67L120.74 172.14L120.98 169.74L121.22 167.50L121.47 165.46L121.71 163.65L121.96 162.09L122.20 160.81L122.44 162.25L122.68 164.03L122.92 166.12L123.16 168.49L123.40 171.08L123.64 173.85L123.88 176.72L124.12 179.63L124.36 182.50L124.60 185.26L124.84 187.86L125.08 190.23L125.32 192.32L125.56 194.09L125.80 195.54L126.04 194.34L126.28 192.91L126.52 191.25L126.76 189.39L126.99 187.34L127.23 185.13L127.47 182.81L127.71 180.40L127.95 177.95L128.19 175.51L128.43 173.10L128.67 170.77L128.91 168.57L129.14 166.52L129.38 164.65L129.62 163.00L129.86 161.56L130.10 160.37L130.34 161.80L130.58 163.57L130.82 165.65L131.06 168.00L131.30 170.57L131.54 173.32L131.78 176.17L132.02 179.06L132.26 181.91L132.50 184.66L132.74 187.24L132.98 189.59L133.22 191.66L133.46 193.43L133.70 194.86L133.94 193.66L134.18 192.23L134.42 190.56L134.66 188.69L134.89 186.63L135.13 184.42L135.37 182.09L135.61 179.67L135.85 177.21L136.09 174.76L136.33 172.34L136.57 170.01L136.81 167.79L137.04 165.74L137.28 163.86L137.52 162.20L137.76 160.76L138.00 159.56L138.24 161.01L138.48 162.79L138.72 164.89L138.96 167.26L139.20 169.86L139.44 172.64L139.68 175.52L139.92 178.43L140.16 181.31L140.40 184.08L140.64 186.68L140.88 189.06L141.12 191.15L141.36 192.93L141.60 194.38L141.84 193.17L142.08 191.72L142.32 190.04L142.56 188.15L142.79 186.08L143.03 183.84L143.27 181.49L143.51 179.05L143.75 176.57L143.99 174.09L144.23 171.65L144.47 169.30L144.71 167.06L144.94 164.99L145.18 163.10L145.42 161.42L145.66 159.97L145.90 158.76L146.14 160.22L146.38 162.02L146.62 164.13L146.86 166.53L147.10 169.15L147.34 171.95L147.58 174.86L147.82 177.80L148.06 180.70L148.30 183.50L148.54 186.13L148.78 188.52L149.02 190.64L149.26 192.44L149.50 193.90L149.75 192.60L149.99 191.03L150.24 189.21L150.49 187.15L150.74 184.89L150.98 182.46L151.23 179.91L151.48 177.29L151.72 174.64L151.97 172.01L152.22 169.46L152.46 167.04L152.71 164.77L152.96 162.72L153.21 160.89L153.45 159.32L153.70 158.02L153.94 159.50L154.18 161.31L154.42 163.44L154.66 165.85L154.90 168.50L155.14 171.32L155.38 174.24L155.62 177.21L155.86 180.13L156.10 182.95L156.34 185.60L156.58 188.01L156.82 190.14L157.06 191.95L157.30 193.42L157.54 192.22L157.79 190.77L158.03 189.10L158.28 187.22L158.52 185.15L158.77 182.93L159.01 180.59L159.26 178.16L159.50 175.69L159.74 173.22L159.99 170.79L160.23 168.45L160.48 166.22L160.72 164.15L160.97 162.27L161.21 160.60L161.46 159.16L161.70 157.95L161.94 159.41L162.17 161.20L162.41 163.31L162.65 165.69L162.88 168.31L163.12 171.09L163.36 173.99L163.59 176.92L163.83 179.81L164.07 182.60L164.30 185.22L164.54 187.60L164.78 189.71L165.01 191.50L165.25 192.96L165.50 191.60L165.74 189.94L165.99 188.01L166.24 185.82L166.48 183.42L166.73 180.85L166.98 178.16L167.22 175.42L167.47 172.67L167.72 169.99L167.97 167.42L168.21 165.02L168.46 162.83L168.71 160.90L168.95 159.24L169.20 157.88L169.44 159.34L169.68 161.14L169.92 163.26L170.16 165.65L170.40 168.28L170.64 171.08L170.88 173.98L171.12 176.93L171.36 179.83L171.60 182.63L171.84 185.26L172.08 187.65L172.32 189.76L172.56 191.56L172.80 193.03L173.04 191.75L173.28 190.21L173.52 188.42L173.76 186.40L174.01 184.18L174.25 181.80L174.49 179.30L174.73 176.72L174.97 174.12L175.21 171.54L175.45 169.04L175.69 166.66L175.94 164.44L176.18 162.42L176.42 160.63L176.66 159.09L176.90 157.81L177.14 159.28L177.38 161.09L177.62 163.21L177.86 165.61L178.10 168.25L178.34 171.06L178.58 173.98L178.82 176.93L179.06 179.85L179.30 182.66L179.54 185.29L179.78 187.70L180.02 189.82L180.26 191.63L180.50 193.10L180.75 191.82L180.99 190.27L181.24 188.47L181.49 186.44L181.74 184.22L181.98 181.82L182.23 179.31L182.48 176.72L182.72 174.11L182.97 171.53L183.22 169.01L183.46 166.62L183.71 164.39L183.96 162.37L184.21 160.57L184.45 159.02L184.70 157.74L184.94 159.22L185.18 161.03L185.42 163.16L185.66 165.58L185.90 168.22L186.14 171.04L186.38 173.97L186.62 176.94L186.86 179.87L187.10 182.69L187.34 185.33L187.58 187.75L187.82 189.88L188.06 191.69L188.30 193.17L188.55 191.88L188.79 190.33L189.04 188.53L189.29 186.49L189.54 184.25L189.78 181.85L190.03 179.33L190.28 176.73L190.52 174.11L190.77 171.51L191.02 168.99L191.26 166.59L191.51 164.35L191.76 162.31L192.01 160.51L192.25 158.96L192.50 157.67L192.74 159.15L192.98 160.97L193.22 163.11L193.46 165.54L193.70 168.19L193.94 171.03L194.18 173.97L194.42 176.94L194.66 179.88L194.90 182.72L195.14 185.37L195.38 187.80L195.62 189.94L195.86 191.76L196.10 193.24L196.35 191.95L196.59 190.39L196.84 188.58L197.09 186.53L197.34 184.29L197.58 181.88L197.83 179.34L198.08 176.73L198.32 174.10L198.57 171.49L198.82 168.96L199.06 166.55L199.31 164.30L199.56 162.26L199.81 160.44L200.05 158.89L200.30 157.60L200.54 159.08L200.78 160.90L201.02 163.04L201.26 165.46L201.50 168.12L201.74 170.95L201.98 173.89L202.22 176.87L202.46 179.81L202.70 182.64L202.94 185.30L203.18 187.72L203.42 189.87L203.66 191.69L203.90 193.17L204.14 191.95L204.38 190.50L204.62 188.81L204.86 186.92L205.09 184.83L205.33 182.59L205.57 180.23L205.81 177.78L206.05 175.29L206.29 172.81L206.53 170.36L206.77 168.00L207.01 165.76L207.24 163.67L207.48 161.78L207.72 160.09L207.96 158.64L208.20 157.42L208.44 158.90L208.68 160.72L208.92 162.86L209.16 165.28L209.40 167.93L209.64 170.76L209.88 173.70L210.12 176.67L210.36 179.61L210.60 182.44L210.84 185.09L211.08 187.51L211.32 189.65L211.56 191.47L211.80 192.95L212.04 191.73L212.29 190.28L212.53 188.60L212.78 186.70L213.02 184.62L213.27 182.39L213.51 180.03L213.76 177.58L214.00 175.10L214.24 172.61L214.49 170.17L214.73 167.81L214.98 165.57L215.22 163.49L215.47 161.59L215.71 159.91L215.96 158.46L216.20 157.25L216.44 158.72L216.68 160.54L216.92 162.67L217.16 165.09L217.40 167.74L217.64 170.57L217.88 173.50L218.12 176.47L218.35 179.40L218.59 182.23L218.83 184.88L219.07 187.30L219.31 189.43L219.55 191.25L219.79 192.72L220.03 191.51L220.27 190.06L220.51 188.38L220.75 186.49L220.99 184.41L221.23 182.18L221.47 179.82L221.71 177.38L221.95 174.90L222.19 172.42L222.42 169.98L222.66 167.62L222.90 165.38L223.14 163.31L223.38 161.41L223.62 159.73L223.86 158.28L224.10 157.07L224.35 158.66L224.60 160.65L224.85 162.99L225.09 165.64L225.34 168.55L225.59 171.62L225.84 174.79L226.09 177.96L226.34 181.03L226.59 183.94L226.83 186.59L227.08 188.93L227.33 190.92L227.58 192.51L227.83 191.22L228.08 189.66L228.32 187.85L228.57 185.81L228.82 183.57L229.07 181.16L229.32 178.63L229.57 176.02L229.81 173.39L230.06 170.79L230.31 168.25L230.56 165.85L230.81 163.60L231.06 161.56L231.30 159.75L231.55 158.19L231.80 156.90L232.04 158.37L232.27 160.19L232.51 162.32L232.75 164.73L232.98 167.37L233.22 170.19L233.46 173.12L233.69 176.08L233.93 179.00L234.17 181.82L234.40 184.47L234.64 186.88L234.88 189.01L235.11 190.82L235.35 192.29L235.59 191.08L235.83 189.64L236.07 187.96L236.32 186.07L236.56 184.00L236.80 181.77L237.04 179.42L237.28 176.99L237.52 174.51L237.77 172.03L238.01 169.60L238.25 167.25L238.49 165.02L238.73 162.95L238.97 161.06L239.22 159.38L239.46 157.94L239.70 156.73L239.94 158.20L240.18 160.01L240.41 162.14L240.65 164.54L240.89 167.18L241.13 170.00L241.36 172.92L241.60 175.88L241.84 178.80L242.08 181.62L242.32 184.26L242.55 186.67L242.79 188.79L243.03 190.60L243.27 192.07L243.51 190.87L243.76 189.42L244.01 187.75L244.25 185.86L244.50 183.79L244.74 181.56L244.99 179.22L245.24 176.79L245.48 174.31L245.73 171.84L245.98 169.41L246.22 167.06L246.47 164.83L246.71 162.76L246.96 160.88L247.21 159.20L247.45 157.76L247.70 156.55L247.95 158.13L248.20 160.09L248.45 162.41L248.70 165.03L248.95 167.91L249.20 170.95L249.45 174.09L249.70 177.22L249.95 180.26L250.20 183.14L250.45 185.77L250.70 188.08L250.95 190.04L251.20 191.62L251.44 190.42L251.68 188.99L251.93 187.33L252.17 185.46L252.42 183.40L252.66 181.19L252.91 178.86L253.15 176.45L253.40 174.00L253.64 171.55L253.89 169.13L254.13 166.80L254.38 164.59L254.62 162.54L254.87 160.67L255.11 159.01L255.36 157.58L255.60 156.38L255.83 157.77L256.07 159.48L256.30 161.50L256.54 163.78L256.77 166.28L257.00 168.95L257.24 171.72L257.47 174.52L257.71 177.29L257.94 179.95L258.18 182.46L258.41 184.74L258.64 186.75L258.88 188.47L259.11 189.86L259.36 188.72L259.61 187.35L259.86 185.76L260.11 183.98L260.36 182.02L260.61 179.91L260.86 177.68L261.11 175.38L261.36 173.04L261.61 170.70L261.85 168.40L262.10 166.17L262.35 164.06L262.60 162.10L262.85 160.32L263.10 158.73L263.35 157.36L263.60 156.22L263.84 157.66L264.07 159.44L264.31 161.53L264.54 163.90L264.78 166.49L265.01 169.25L265.25 172.12L265.48 175.03L265.72 177.90L265.95 180.66L266.19 183.25L266.42 185.62L266.66 187.71L266.89 189.48L267.13 190.93L267.37 189.82L267.61 188.50L267.85 186.98L268.09 185.28L268.33 183.40L268.57 181.39L268.81 179.25L269.05 177.04L269.29 174.77L269.53 172.48L269.78 170.21L270.02 167.99L270.26 165.86L270.50 163.84L270.74 161.97L270.98 160.26L271.22 158.74L271.46 157.42L271.70 156.32L271.94 157.79L272.17 159.60L272.41 161.74L272.64 164.15L272.88 166.80L273.12 169.62L273.35 172.55L273.59 175.52L273.83 178.45L274.06 181.27L274.30 183.92L274.53 186.33L274.77 188.47L275.01 190.28L275.24 191.76L275.49 190.62L275.73 189.28L275.98 187.73L276.22 185.99L276.47 184.07L276.71 182.01L276.96 179.84L277.20 177.57L277.45 175.25L277.69 172.91L277.94 170.60L278.18 168.33L278.43 166.15L278.67 164.09L278.92 162.18L279.16 160.44L279.41 158.89L279.65 157.54L279.90 156.41L280.14 157.87L280.37 159.67L280.61 161.79L280.85 164.18L281.09 166.81L281.32 169.60L281.56 172.51L281.80 175.45L282.03 178.36L282.27 181.15L282.51 183.78L282.75 186.18L282.98 188.29L283.22 190.09L283.46 191.55L283.71 190.43L283.96 189.09L284.21 187.56L284.46 185.83L284.71 183.93L284.96 181.89L285.20 179.73L285.45 177.49L285.70 175.19L285.95 172.87L286.20 170.57L286.45 168.32L286.70 166.16L286.95 164.12L287.20 162.23L287.45 160.50L287.70 158.96L287.95 157.63L288.20 156.51L288.44 157.95L288.67 159.74L288.91 161.84L289.14 164.21L289.38 166.81L289.61 169.59L289.85 172.47L290.08 175.38L290.32 178.26L290.55 181.04L290.79 183.64L291.02 186.02L291.26 188.11L291.49 189.90L291.73 191.34L291.97 190.29L292.21 189.05L292.44 187.63L292.68 186.03L292.92 184.28L293.16 182.39L293.40 180.39L293.64 178.30L293.88 176.15L294.11 173.97L294.35 171.79L294.59 169.65L294.83 167.56L295.07 165.56L295.31 163.67L295.55 161.92L295.78 160.32L296.02 158.90L296.26 157.65L296.50 156.60L296.74 158.04L296.98 159.81L297.22 161.88L297.46 164.24L297.70 166.82L297.94 169.57L298.18 172.43L298.42 175.32L298.66 178.17L298.90 180.92L299.14 183.50L299.38 185.86L299.62 187.94L299.86 189.70L300.10 191.14L300.35 190.09L300.60 188.86L300.85 187.44L301.10 185.85L301.35 184.11L301.60 182.23L301.85 180.24L302.10 178.16L302.35 176.02L302.60 173.85L302.85 171.69L303.10 169.55L303.35 167.47L303.60 165.48L303.85 163.60L304.10 161.86L304.35 160.27L304.60 158.85L304.85 157.62L305.10 156.57L305.35 158.13L305.60 160.07L305.85 162.36L306.10 164.96L306.34 167.80L306.59 170.82L306.84 173.92L307.09 177.01L307.34 180.03L307.59 182.87L307.84 185.47L308.09 187.76L308.34 189.70L308.59 191.26L308.83 190.21L309.08 188.96L309.32 187.54L309.57 185.94L309.81 184.18L310.06 182.29L310.31 180.28L310.55 178.19L310.80 176.04L311.04 173.86L311.29 171.67L311.53 169.52L311.78 167.43L312.03 165.42L312.27 163.53L312.52 161.77L312.76 160.18L313.01 158.75L313.25 157.50L313.50 156.45L313.74 158.02L313.98 159.97L314.22 162.28L314.46 164.90L314.70 167.76L314.95 170.79L315.19 173.91L315.43 177.04L315.67 180.07L315.91 182.93L316.15 185.55L316.39 187.86L316.63 189.81L316.87 191.38L317.12 190.32L317.37 189.07L317.61 187.63L317.86 186.02L318.11 184.25L318.35 182.35L318.60 180.33L318.84 178.22L319.09 176.05L319.34 173.86L319.58 171.66L319.83 169.49L320.08 167.38L320.32 165.36L320.57 163.46L320.81 161.69L321.06 160.08L321.31 158.65L321.55 157.39L321.80 156.33L322.04 157.79L322.28 159.59L322.52 161.71L322.76 164.11L323.00 166.74L323.24 169.54L323.48 172.44L323.72 175.39L323.96 178.30L324.20 181.10L324.44 183.72L324.68 186.12L324.92 188.24L325.16 190.04L325.40 191.50L325.65 190.59L325.90 189.53L326.14 188.33L326.39 186.99L326.64 185.53L326.89 183.96L327.13 182.28L327.38 180.52L327.63 178.69L327.88 176.81L328.13 174.90L328.37 172.99L328.62 171.08L328.87 169.20L329.12 167.37L329.37 165.61L329.61 163.94L329.86 162.36L330.11 160.90L330.36 159.56L330.60 158.36L330.85 157.30L331.10 156.39L331.34 157.97L331.58 159.94L331.82 162.27L332.06 164.91L332.29 167.80L332.53 170.85L332.77 174.00L333.01 177.15L333.25 180.21L333.49 183.09L333.73 185.73L333.97 188.06L334.21 190.03L334.44 191.61L334.68 190.69L334.92 189.61L335.16 188.39L335.40 187.02L335.64 185.52L335.88 183.91L336.12 182.19L336.36 180.39L336.59 178.53L336.83 176.62L337.07 174.69L337.31 172.76L337.55 170.85L337.79 168.99L338.03 167.19L338.27 165.47L338.51 163.86L338.74 162.36L338.98 161.00L339.22 159.77L339.46 158.69L339.70 157.77L339.94 159.29L340.19 161.19L340.43 163.43L340.68 165.98L340.92 168.76L341.17 171.70L341.41 174.73L341.66 177.77L341.90 180.71L342.14 183.49L342.39 186.04L342.63 188.28L342.88 190.18L343.12 191.70L343.37 190.76L343.61 189.68L343.85 188.44L344.09 187.07L344.34 185.57L344.58 183.95L344.82 182.23L345.06 180.42L345.31 178.55L345.55 176.62L345.79 174.66L346.03 172.69L346.28 170.73L346.52 168.80L346.76 166.93L347.00 165.12L347.25 163.40L347.49 161.78L347.73 160.28L347.97 158.91L348.22 157.67L348.46 156.59L348.70 155.65L348.95 157.27L349.20 159.29L349.45 161.68L349.70 164.39L349.95 167.35L350.20 170.49L350.45 173.72L350.69 176.95L350.94 180.09L351.19 183.05L351.44 185.76L351.69 188.15L351.94 190.17L352.19 191.79L352.44 190.90L352.68 189.87L352.93 188.70L353.18 187.40L353.42 185.99L353.67 184.46L353.91 182.84L354.16 181.13L354.41 179.35L354.65 177.52L354.90 175.66L355.15 173.77L355.39 171.89L355.64 170.02L355.88 168.19L356.13 166.41L356.38 164.71L356.62 163.08L356.87 161.56L357.12 160.14L357.36 158.85L357.61 157.68L357.85 156.65L358.10 155.75L358.34 157.37L358.59 159.40L358.83 161.78L359.07 164.49L359.31 167.45L359.56 170.59L359.80 173.82L360.04 177.05L360.29 180.19L360.53 183.15L360.77 185.86L361.02 188.24L361.26 190.27L361.50 191.89L361.75 190.99L362.00 189.96L362.25 188.80L362.50 187.50L362.75 186.09L363.00 184.56L363.25 182.94L363.50 181.23L363.75 179.46L364.00 177.63L364.25 175.76L364.50 173.88L364.75 172.00L365.00 170.13L365.25 168.30L365.50 166.52L365.75 164.82L366.00 163.19L366.25 161.67L366.50 160.26L366.75 158.96L367.00 157.79L367.25 156.76L367.50 155.87L367.74 157.49L367.98 159.51L368.22 161.89L368.45 164.59L368.69 167.55L368.93 170.68L369.17 173.91L369.41 177.13L369.65 180.27L369.88 183.22L370.12 185.93L370.36 188.31L370.60 190.33L370.84 191.95L371.08 191.09L371.32 190.11L371.56 189.01L371.81 187.78L372.05 186.45L372.29 185.01L372.53 183.47L372.78 181.86L373.02 180.18L373.26 178.44L373.50 176.66L373.75 174.86L373.99 173.06L374.23 171.25L374.47 169.48L374.72 167.74L374.96 166.06L375.20 164.44L375.44 162.91L375.69 161.47L375.93 160.14L376.17 158.91L376.41 157.81L376.66 156.82L376.90 155.97L377.15 157.73L377.40 159.95L377.65 162.58L377.90 165.57L378.15 168.83L378.40 172.25L378.65 175.73L378.90 179.15L379.15 182.41L379.39 185.40L379.64 188.03L379.89 190.25L380.14 192.01L380.39 191.16L380.63 190.18L380.87 189.07L381.11 187.85L381.35 186.51L381.60 185.07L381.84 183.54L382.08 181.93L382.32 180.25L382.57 178.52L382.81 176.74L383.05 174.94L383.29 173.14L383.54 171.34L383.78 169.56L384.02 167.83L384.26 166.15L384.50 164.54L384.75 163.00L384.99 161.57L385.23 160.23L385.47 159.01L385.72 157.90L385.96 156.92L386.20 156.07L386.44 157.69L386.67 159.70L386.91 162.08L387.15 164.78L387.39 167.73L387.62 170.85L387.86 174.07L388.10 177.29L388.34 180.41L388.57 183.36L388.81 186.06L389.05 188.44L389.29 190.45L389.52 192.07L389.77 191.26L390.01 190.33L390.26 189.28L390.50 188.13L390.75 186.87L390.99 185.52L391.24 184.07L391.48 182.55L391.73 180.97L391.98 179.33L392.22 177.64L392.47 175.93L392.71 174.21L392.96 172.48L393.20 170.77L393.45 169.09L393.69 167.45L393.94 165.86L394.18 164.34L394.43 162.90L394.67 161.55L394.92 160.29L395.16 159.13L395.41 158.09L395.65 157.16L395.90 156.34L396.14 157.95L396.37 159.95L396.61 162.32L396.84 165.00L397.08 167.93L397.31 171.04L397.55 174.24L397.78 177.44L398.02 180.55L398.25 183.48L398.49 186.16L398.72 188.53L398.96 190.53L399.19 192.14L399.43 191.36L399.68 190.48L399.92 189.49L400.16 188.40L400.40 187.22L400.64 185.95L400.88 184.59L401.12 183.16L401.36 181.66L401.60 180.11L401.84 178.52L402.09 176.90L402.33 175.26L402.57 173.61L402.81 171.97L403.05 170.35L403.29 168.76L403.53 167.21L403.77 165.71L404.01 164.28L404.25 162.93L404.50 161.65L404.74 160.47L404.98 159.38L405.22 158.39L405.46 157.51L405.70 156.74L405.94 158.33L406.18 160.31L406.43 162.66L406.67 165.31L406.91 168.22L407.15 171.30L407.40 174.47L407.64 177.64L407.88 180.72L408.12 183.62L408.37 186.28L408.61 188.62L408.85 190.61L409.09 192.20L409.34 191.45L409.59 190.61L409.83 189.66L410.08 188.63L410.33 187.50L410.57 186.28L410.82 184.99L411.07 183.63L411.31 182.20L411.56 180.72L411.81 179.20L412.05 177.64L412.30 176.06L412.55 174.47L412.79 172.89L413.04 171.31L413.29 169.75L413.53 168.23L413.78 166.75L414.03 165.32L414.27 163.96L414.52 162.67L414.77 161.45L415.01 160.32L415.26 159.29L415.51 158.34L415.75 157.50L416.00 156.75L416.24 158.30L416.48 160.24L416.73 162.52L416.97 165.11L417.21 167.94L417.45 170.95L417.69 174.04L417.94 177.12L418.18 180.13L418.42 182.96L418.66 185.55L418.90 187.84L419.15 189.77L419.39 191.32L419.63 190.62L419.88 189.83L420.12 188.95L420.37 187.99L420.61 186.94L420.86 185.81L421.10 184.61L421.35 183.35L421.60 182.02L421.84 180.65L422.09 179.23L422.33 177.78L422.58 176.30L422.82 174.81L423.07 173.32L423.31 171.83L423.56 170.35L423.80 168.90L424.05 167.48L424.29 166.11L424.54 164.78L424.78 163.52L425.03 162.32L425.27 161.19L425.52 160.14L425.76 159.18L426.01 158.30L426.25 157.51L426.50 156.81L426.74 158.17L426.99 159.91L427.23 161.98L427.48 164.33L427.72 166.88L427.97 169.53L428.21 172.17L428.46 174.72L428.70 177.07L428.95 179.15L429.19 180.88L429.44 182.25L429.68 181.69L429.93 181.06L430.17 180.34L430.42 179.56L430.66 178.70L430.91 177.78L431.15 176.80L431.40 175.76L431.64 174.68L431.89 173.56L432.13 172.41L432.38 171.25L432.62 170.07L432.86 168.90L433.11 167.73L433.35 166.59L433.60 165.47L433.84 164.39L434.09 163.35L434.33 162.37L434.58 161.44L434.82 160.59L435.07 159.80L435.31 159.09L435.56 158.46L435.80 157.90L436.04 159.20L436.28 160.84L436.52 162.78L436.76 164.98L436.99 167.39L437.23 169.91L437.47 172.48L437.71 175.00L437.95 177.40L438.19 179.61L438.43 181.55L438.67 183.19L438.91 184.49L439.15 183.95L439.40 183.34L439.64 182.66L439.89 181.91L440.14 181.10L440.38 180.23L440.63 179.30L440.88 178.32L441.12 177.29L441.37 176.22L441.61 175.13L441.86 174.01L442.11 172.87L442.35 171.73L442.60 170.58L442.85 169.45L443.09 168.33L443.34 167.23L443.58 166.17L443.83 165.14L444.08 164.16L444.32 163.23L444.57 162.36L444.82 161.54L445.06 160.80L445.31 160.12L445.55 159.51L445.80 158.97L446.04 160.46L446.28 162.31L446.52 164.51L446.76 166.99L447.00 169.71L447.24 172.59L447.47 175.55L447.71 178.51L447.95 181.39L448.19 184.11L448.43 186.59L448.67 188.79L448.91 190.64L449.15 192.13L449.40 191.50L449.64 190.80L449.89 190.02L450.14 189.17L450.38 188.25L450.63 187.27L450.88 186.22L451.12 185.11L451.37 183.95L451.62 182.74L451.86 181.49L452.11 180.21L452.36 178.90L452.60 177.57L452.85 176.23L453.10 174.89L453.35 173.55L453.59 172.22L453.84 170.91L454.09 169.63L454.33 168.38L454.58 167.18L454.83 166.01L455.07 164.91L455.32 163.86L455.57 162.87L455.81 161.95L456.06 161.10L456.31 160.32L456.55 159.62L456.80 158.99L457.05 160.34L457.30 162.04L457.55 164.07L457.80 166.36L458.05 168.86L458.30 171.48L458.55 174.15L458.80 176.78L459.05 179.27L459.30 181.57L459.55 183.59L459.80 185.29L460.05 186.64L460.29 186.13L460.54 185.57L460.79 184.94L461.03 184.25L461.28 183.50L461.53 182.70L461.78 181.85L462.02 180.96L462.27 180.02L462.52 179.04L462.76 178.03L463.01 176.99L463.26 175.93L463.50 174.86L463.75 173.78L464.00 172.69L464.24 171.60L464.49 170.53L464.74 169.47L464.98 168.43L465.23 167.42L465.48 166.45L465.73 165.51L465.97 164.61L466.22 163.76L466.47 162.96L466.71 162.21L466.96 161.53L467.21 160.90L467.45 160.33L467.70 159.82L467.94 161.00L468.17 162.48L468.41 164.25L468.64 166.25L468.88 168.43L469.11 170.72L469.35 173.04L469.58 175.33L469.82 177.51L470.05 179.51L470.29 181.27L470.52 182.76L470.76 183.94L471.01 183.48L471.26 182.97L471.50 182.40L471.75 181.78L472.00 181.11L472.25 180.38L472.50 179.61L472.74 178.80L472.99 177.95L473.24 177.06L473.49 176.15L473.74 175.21L473.98 174.26L474.23 173.29L474.48 172.32L474.73 171.35L474.98 170.38L475.22 169.42L475.47 168.49L475.72 167.57L475.97 166.69L476.22 165.84L476.46 165.03L476.71 164.25L476.96 163.53L477.21 162.86L477.46 162.23L477.70 161.67L477.95 161.16L478.20 160.70L478.44 161.98L478.68 163.58L478.91 165.46L479.15 167.60L479.39 169.93L479.63 172.41L479.87 174.96L480.11 177.50L480.34 179.98L480.58 182.32L480.82 184.45L481.06 186.34L481.30 187.93L481.53 189.21L481.78 188.71L482.03 188.15L482.28 187.53L482.52 186.85L482.77 186.12L483.02 185.34L483.27 184.51L483.51 183.64L483.76 182.72L484.01 181.77L484.26 180.78L484.50 179.76L484.75 178.72L485.00 177.66L485.25 176.58L485.49 175.50L485.74 174.41L485.99 173.33L486.24 172.26L486.48 171.20L486.73 170.15L486.98 169.14L487.23 168.15L487.47 167.19L487.72 166.27L487.97 165.40L488.22 164.57L488.46 163.79L488.71 163.06L488.96 162.39L489.21 161.77L489.45 161.20L489.70 160.70L489.93 161.88L490.17 163.34L490.40 165.07L490.64 167.03L490.87 169.17L491.10 171.45L491.34 173.79L491.57 176.12L491.81 178.40L492.04 180.54L492.27 182.50L492.51 184.23L492.74 185.70L492.98 186.87L493.22 186.41L493.46 185.89L493.71 185.32L493.95 184.70L494.19 184.04L494.44 183.32L494.68 182.56L494.92 181.75L495.17 180.91L495.41 180.04L495.65 179.13L495.89 178.19L496.14 177.24L496.38 176.26L496.62 175.28L496.87 174.28L497.11 173.29L497.35 172.29L497.60 171.31L497.84 170.33L498.08 169.38L498.33 168.44L498.57 167.53L498.81 166.66L499.06 165.82L499.30 165.01L499.54 164.25L499.78 163.54L500.03 162.87L500.27 162.25L500.51 161.68L500.76 161.16L501.00 160.70L501.24 161.85L501.48 163.27L501.73 164.96L501.97 166.87L502.21 168.96L502.45 171.17L502.70 173.45L502.94 175.73L503.18 177.94L503.42 180.03L503.67 181.94L503.91 183.63L504.15 185.06L504.39 186.20L504.64 185.77L504.88 185.30L505.13 184.77L505.37 184.21L505.61 183.59L505.86 182.93L506.10 182.24L506.35 181.50L506.59 180.73L506.84 179.93L507.08 179.09L507.32 178.24L507.57 177.36L507.81 176.46L508.06 175.55L508.30 174.63L508.55 173.71L508.79 172.79L509.04 171.87L509.28 170.96L509.52 170.06L509.77 169.19L510.01 168.33L510.26 167.50L510.50 166.69L510.75 165.92L510.99 165.18L511.23 164.49L511.48 163.83L511.72 163.22L511.97 162.65L512.21 162.12L512.46 161.65L512.70 161.22L512.95 162.31L513.20 163.67L513.45 165.27L513.69 167.09L513.94 169.08L514.19 171.19L514.44 173.35L514.69 175.52L514.94 177.63L515.19 179.62L515.43 181.44L515.68 183.04L515.93 184.40L516.18 185.49L516.42 185.09L516.67 184.65L516.91 184.17L517.15 183.65L517.40 183.09L517.64 182.49L517.88 181.86L518.13 181.18L518.37 180.48L518.61 179.75L518.86 178.99L519.10 178.20L519.34 177.40L519.59 176.58L519.83 175.74L520.07 174.90L520.32 174.05L520.56 173.19L520.81 172.34L521.05 171.50L521.29 170.67L521.54 169.84L521.78 169.04L522.02 168.26L522.27 167.49L522.51 166.76L522.75 166.06L523.00 165.39L523.24 164.75L523.48 164.15L523.73 163.59L523.97 163.07L524.21 162.59L524.46 162.15L524.70 161.76L524.94 162.76L525.18 164.01L525.42 165.47L525.66 167.12L525.90 168.93L526.14 170.86L526.38 172.87L526.62 174.90L526.86 176.90L527.10 178.84L527.34 180.65L527.58 182.30L527.82 183.76L528.06 185.00L528.30 186.01L528.55 185.69L528.79 185.35L529.04 184.97L529.29 184.57L529.53 184.14L529.78 183.69L530.03 183.21L530.27 182.70L530.52 182.17L530.77 181.62L531.01 181.04L531.26 180.45L531.50 179.84L531.75 179.21L532.00 178.57L532.24 177.91L532.49 177.24L532.74 176.57L532.98 175.88L533.23 175.20L533.48 174.50L533.72 173.81L533.97 173.12L534.22 172.43L534.46 171.75L534.71 171.07L534.96 170.40L535.20 169.75L535.45 169.10L535.70 168.48L535.94 167.86L536.19 167.27L536.43 166.70L536.68 166.14L536.93 165.61L537.17 165.11L537.42 164.63L537.67 164.17L537.91 163.74L538.16 163.34L538.41 162.97L538.65 162.62" stroke="#008000"/>
</g>
<g font-family="'Liberation Serif', serif" font-weight="bold" font-size="16" fill="#000">
<text x="59.10" y="356.7" text-anchor="middle">0</text>
<text x="107.02" y="356.7" text-anchor="middle">0.2</text>
<text x="154.94" y="356.7" text-anchor="middle">0.4</text>
<text x="202.86" y="356.7" text-anchor="middle">0.6</text>
<text x="250.78" y="356.7" text-anchor="middle">0.8</text>
<text x="298.70" y="356.7" text-anchor="middle">1</text>
<text x="346.62" y="356.7" text-anchor="middle">1.2</text>
<text x="394.54" y="356.7" text-anchor="middle">1.4</text>
<text x="442.46" y="356.7" text-anchor="middle">1.6</text>
<text x="490.38" y="356.7" text-anchor="middle">1.8</text>
<text x="538.30" y="356.7" text-anchor="middle">2</text>
<text x="54.2" y="337.00" text-anchor="end" dominant-baseline="central">-15</text>
<text x="54.2" y="283.60" text-anchor="end" dominant-baseline="central">-10</text>
<text x="54.2" y="230.20" text-anchor="end" dominant-baseline="central">-5</text>
<text x="54.2" y="176.80" text-anchor="end" dominant-baseline="central">0</text>
<text x="54.2" y="123.40" text-anchor="end" dominant-baseline="central">5</text>
<text x="54.2" y="70.00" text-anchor="end" dominant-baseline="central">10</text>
<text x="54.2" y="16.60" text-anchor="end" dominant-baseline="central">15</text>
</g>
<text x="299" y="378.3" text-anchor="middle" font-family="'Liberation Serif', serif" font-weight="bold" font-size="17">Time (s)</text>
<text transform="translate(25.7 176.4) rotate(-90) scale(1.088 1)" text-anchor="middle" font-family="'Liberation Serif', serif" font-weight="bold" font-size="17">Rotor Speed (RPM)</text>
<rect x="437.90" y="274.60" width="100.90" height="61.90" fill="#fff" stroke="#262626" stroke-width="1.5" stroke-opacity="0.8"/>
<path d="M443 286.70H495.3" stroke="#0000ff" stroke-width="2.1"/>
<text x="500" y="287.40" font-family="'Liberation Serif', serif" font-weight="bold" font-size="14" dominant-baseline="central">Wr*</text>
<path d="M443 305.60H495.3" stroke="#d95319" stroke-width="2.1"/>
<text x="500" y="306.30" font-family="'Liberation Serif', serif" font-weight="bold" font-size="14" dominant-baseline="central">CVM</text>
<path d="M443 324.80H495.3" stroke="#008000" stroke-width="2.1"/>
<text x="500" y="325.50" font-family="'Liberation Serif', serif" font-weight="bold" font-size="14" dominant-baseline="central">HYB</text>
</svg>
</body></html>
